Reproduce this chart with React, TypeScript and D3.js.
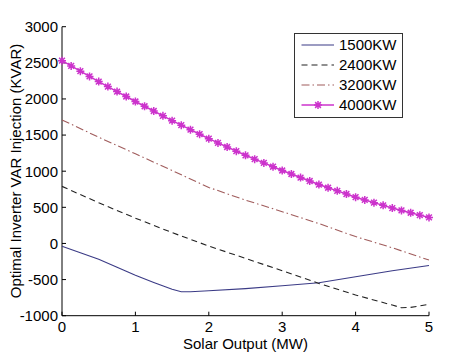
import React from "react";
import * as d3 from "d3";

const xTicks = [0, 1, 2, 3, 4, 5];
const yTicks = [-1000, -500, 0, 500, 1000, 1500, 2000, 2500, 3000];

const x1500 = [0, 0.25, 0.5, 0.75, 1, 1.25, 1.5, 1.625, 1.75, 2, 2.5, 3, 3.5, 4, 4.5, 5];
const y1500 = [-40, -130, -220, -330, -440, -540, -635, -668, -668, -655, -625, -585, -543, -460, -378, -305];

const x2400 = [0, 0.5, 1, 1.5, 2, 2.5, 3, 3.5, 4, 4.5, 4.625, 4.75, 5];
const y2400 = [790, 563, 350, 150, -36, -207, -377, -553, -714, -853, -890, -885, -843];

const x3200 = [0, 0.5, 1, 1.5, 2, 2.5, 3, 3.5, 4, 4.5, 5];
const y3200 = [1710, 1470, 1240, 1010, 775, 600, 440, 275, 95, -60, -230];

const x4000 = [
  0, 0.125, 0.25, 0.375, 0.5, 0.625, 0.75, 0.875, 1, 1.125, 1.25, 1.375, 1.5, 1.625, 1.75, 1.875,
  2, 2.125, 2.25, 2.375, 2.5, 2.625, 2.75, 2.875, 3, 3.125, 3.25, 3.375, 3.5, 3.625, 3.75, 3.875,
  4, 4.125, 4.25, 4.375, 4.5, 4.625, 4.75, 4.875, 5,
];
const y4000 = [
  2530, 2457, 2384, 2312, 2240, 2171, 2102, 2034, 1965, 1899, 1833, 1766, 1700, 1637, 1575, 1512,
  1450, 1392, 1335, 1277, 1220, 1167, 1115, 1062, 1010, 961, 912, 864, 815, 771, 728, 684,
  640, 602, 565, 527, 490, 457, 425, 392, 360,
];

const legendLabels = ["1500KW", "2400KW", "3200KW", "4000KW"];

const W = 474;
const H = 355;
const FONT = "'Liberation Sans', Arial, sans-serif";

export default function App() {
  const x = d3.scaleLinear().domain([0, 5]).range([62, 429]);
  const y = d3.scaleLinear().domain([-1000, 3000]).range([315.7, 26.7]);

  const line = d3
    .line<[number, number]>()
    .x((d) => x(d[0]))
    .y((d) => y(d[1]));

  const zip = (a: number[], b: number[]) => a.map((v, i) => [v, b[i]] as [number, number]);

  const series = [
    { pts: zip(x1500, y1500), color: "#3b3b86", dash: "", width: 1.1, marker: false },
    { pts: zip(x2400, y2400), color: "#222222", dash: "6,4", width: 1.1, marker: false },
    { pts: zip(x3200, y3200), color: "#a05c5c", dash: "8,3,1.5,3", width: 1.1, marker: false },
    { pts: zip(x4000, y4000), color: "#cc33cc", dash: "", width: 1.5, marker: true },
  ];

  const star = (cx: number, cy: number, r: number) =>
    `M${cx - r},${cy}L${cx + r},${cy}M${cx},${cy - r}L${cx},${cy + r}` +
    `M${cx - r * 0.72},${cy - r * 0.72}L${cx + r * 0.72},${cy + r * 0.72}` +
    `M${cx - r * 0.72},${cy + r * 0.72}L${cx + r * 0.72},${cy - r * 0.72}`;

  const legX = 294.5;
  const legY = 33.5;
  const legW = 108;
  const legH = 84;

  return (
    <svg width={W} height={H} style={{ position: "absolute", left: 0, top: 0, background: "#fff" }}>
      <rect x={0} y={0} width={W} height={H} fill="#fff" />
      {/* axes */}
      <line x1={62} x2={62} y1={y(3000)} y2={y(-1000)} stroke="#000" strokeWidth={1} />
      <line x1={62} x2={429} y1={y(-1000)} y2={y(-1000)} stroke="#000" strokeWidth={1} />
      {yTicks.map((t) => (
        <g key={"y" + t}>
          <line x1={62} x2={66} y1={y(t)} y2={y(t)} stroke="#000" />
          <text
            x={58}
            y={y(t)}
            dy="0.36em"
            textAnchor="end"
            fontFamily={FONT}
            fontSize={15}
            fill="#000"
          >
            {t}
          </text>
        </g>
      ))}
      {xTicks.map((t) => (
        <g key={"x" + t}>
          <line x1={x(t)} x2={x(t)} y1={y(-1000)} y2={y(-1000) - 4} stroke="#000" />
          <text x={x(t)} y={332} textAnchor="middle" fontFamily={FONT} fontSize={15} fill="#000">
            {t}
          </text>
        </g>
      ))}
      <text x={245.5} y={349} textAnchor="middle" fontFamily={FONT} fontSize={15} fill="#000">
        Solar Output (MW)
      </text>
      <text
        transform={`translate(21,171) rotate(-90)`}
        textAnchor="middle"
        fontFamily={FONT}
        fontSize={15}
        fill="#000"
      >
        Optimal Inverter VAR Injection (KVAR)
      </text>

      {/* series */}
      {series.map((s, i) => (
        <g key={"s" + i}>
          <path
            d={line(s.pts) || ""}
            fill="none"
            stroke={s.color}
            strokeWidth={s.width}
            strokeDasharray={s.dash || undefined}
          />
          {s.marker &&
            s.pts.map((p, j) => (
              <path key={j} d={star(x(p[0]), y(p[1]), 4)} stroke={s.color} strokeWidth={1.5} fill="none" />
            ))}
        </g>
      ))}

      {/* legend */}
      <rect x={legX} y={legY} width={legW} height={legH} fill="#fff" stroke="#333" strokeWidth={1} />
      {series.map((s, i) => {
        const cy = 45 + i * 20;
        return (
          <g key={"l" + i}>
            <line
              x1={301.5}
              x2={334}
              y1={cy}
              y2={cy}
              stroke={s.color}
              strokeWidth={s.width}
              strokeDasharray={s.dash || undefined}
            />
            {s.marker && <path d={star(318, cy, 4)} stroke={s.color} strokeWidth={1.5} fill="none" />}
            <text x={339} y={cy} dy="0.36em" fontFamily={FONT} fontSize={15} fill="#000">
              {legendLabels[i]}
            </text>
          </g>
        );
      })}
    </svg>
  );
}
